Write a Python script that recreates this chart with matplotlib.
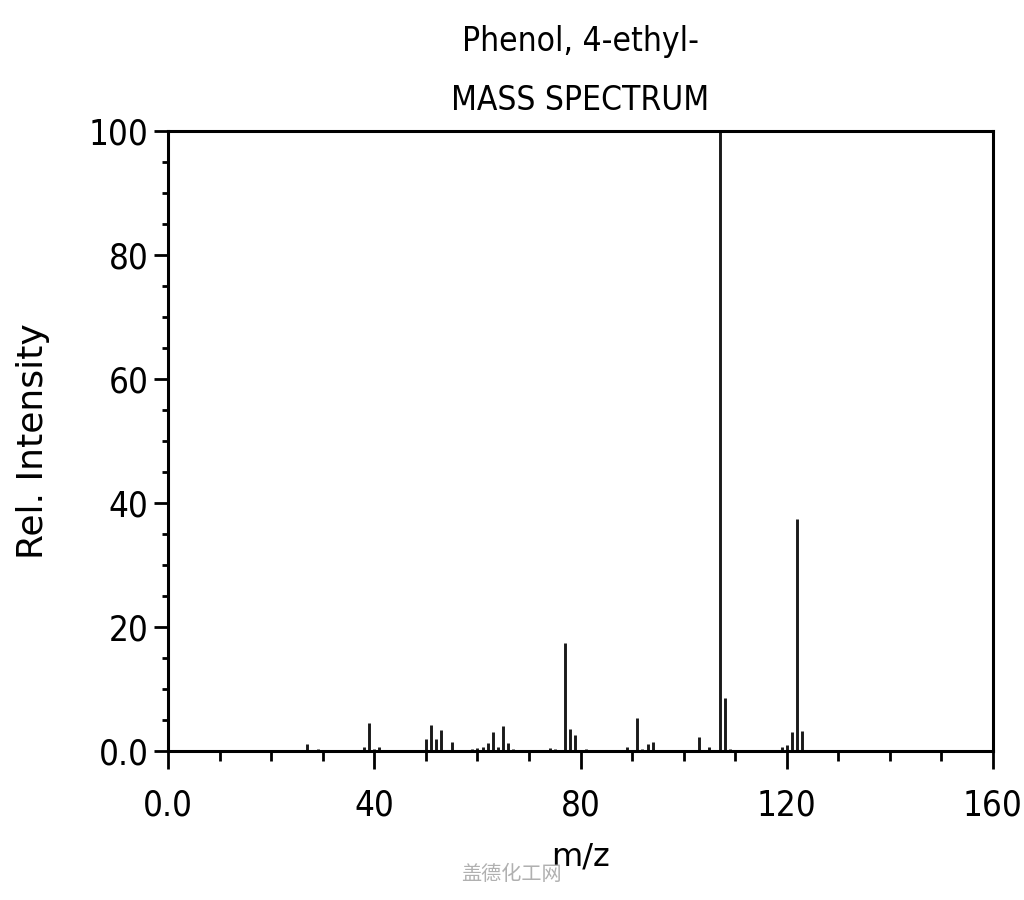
import matplotlib
matplotlib.use("Agg")
import matplotlib.pyplot as plt
from matplotlib.ticker import MultipleLocator

title_line1 = "Phenol, 4-ethyl-"
title_line2 = "MASS SPECTRUM"
x_label = "m/z"
y_label = "Rel. Intensity"
watermark = "盖德化工网"

mz = [27, 29, 38, 39, 40, 41, 50, 51, 52, 53, 55,
      59, 60, 61, 62, 63, 64, 65, 66, 67,
      74, 75, 77, 78, 79, 81,
      89, 91, 92, 93, 94, 95,
      103, 105, 107, 108, 109,
      119, 120, 121, 122, 123]
intensity = [1.2, 0.3, 0.7, 4.5, 0.4, 0.7, 1.9, 4.2, 1.9, 3.4, 1.5,
             0.3, 0.5, 0.7, 1.3, 3.1, 0.6, 4.1, 1.3, 0.3,
             0.5, 0.4, 17.4, 3.6, 2.6, 0.4,
             0.6, 5.4, 0.4, 1.1, 1.5, 0.2,
             2.2, 0.6, 100.0, 8.6, 0.4,
             0.6, 0.9, 3.1, 37.4, 3.3]

x_major = [0, 40, 80, 120, 160]
x_major_labels = ["0.0", "40", "80", "120", "160"]
y_major = [0, 20, 40, 60, 80, 100]
y_major_labels = ["0.0", "20", "40", "60", "80", "100"]

fig = plt.figure(figsize=(10.24, 9.0), dpi=100)
ax = fig.add_axes([168 / 1024, 1 - 751 / 900, 825 / 1024, 620 / 900])

ax.vlines(mz, 0, intensity, colors="#1a1a1a", linewidth=2.1)

ax.set_xlim(0, 160)
ax.set_ylim(0, 100)
ax.set_xticks(x_major)
ax.set_xticklabels(x_major_labels)
ax.set_yticks(y_major)
ax.set_yticklabels(y_major_labels)
ax.xaxis.set_minor_locator(MultipleLocator(10))
ax.yaxis.set_minor_locator(MultipleLocator(5))

for s in ax.spines.values():
    s.set_linewidth(2.2)
    s.set_color("black")

ax.tick_params(axis="x", which="major", direction="out", length=13, width=2.0, pad=14)
ax.tick_params(axis="x", which="minor", direction="out", length=7, width=2.0)
ax.tick_params(axis="y", which="major", direction="out", length=10, width=2.0, pad=4)
ax.tick_params(axis="y", which="minor", direction="out", length=4, width=2.0)

for lab in ax.get_xticklabels() + ax.get_yticklabels():
    lab.set_fontfamily("DejaVu Sans")
    lab.set_fontstretch("condensed")
    lab.set_fontsize(25)

ax.set_xlabel(x_label, fontsize=23, fontfamily="DejaVu Sans", labelpad=14)
ax.set_ylabel(y_label, fontsize=26, fontfamily="DejaVu Sans", labelpad=28)

fig.text(580.5 / 1024, 1 - 42 / 900, title_line1, ha="center", va="center",
         fontsize=24, fontfamily="DejaVu Sans", fontstretch="condensed")
fig.text(580.5 / 1024, 1 - 100 / 900, title_line2, ha="center", va="center",
         fontsize=24, fontfamily="DejaVu Sans", fontstretch="condensed")

fig.text(511 / 1024, 1 - 875 / 900, watermark, ha="center", va="center",
         fontsize=14.5, color="#b0b0b0", fontfamily=["Noto Sans CJK SC", "DejaVu Sans"])

fig.savefig("out.png", dpi=100, facecolor="white")
